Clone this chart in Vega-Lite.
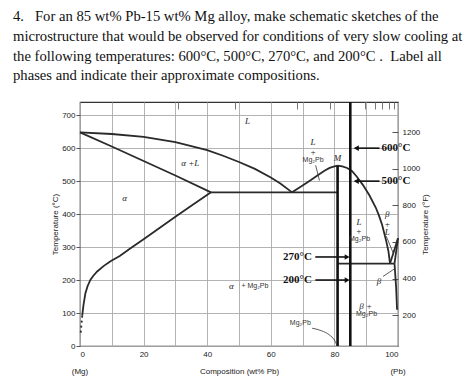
{
  "$schema": "https://vega.github.io/schema/vega-lite/v6.json",
  "width": 318,
  "height": 244,
  "autosize": {"type": "none"},
  "padding": {"left": 80, "top": 102, "right": 76, "bottom": 39},
  "background": "white",
  "title": {
    "text": [
      "4.\u00a0\u00a0 For an 85 wt% Pb-15 wt% Mg alloy, make schematic sketches of the",
      "microstructure that would be observed for conditions of very slow cooling at",
      "the following temperatures: 600°C, 500°C, 270°C, and 200°C .\u00a0 Label all",
      "phases and indicate their approximate compositions."
    ],
    "anchor": "start",
    "frame": "group",
    "dx": -67,
    "dy": 21,
    "offset": 20,
    "baseline": "bottom",
    "font": "Liberation Serif",
    "fontSize": 14.65,
    "fontWeight": "normal",
    "color": "#111",
    "lineHeight": 19.6
  },
  "config": {
    "view": {"stroke": "#333", "strokeWidth": 1.2},
    "axis": {
      "labelFont": "Liberation Sans",
      "labelFontSize": 8,
      "labelColor": "#222",
      "labelOverlap": false,
      "titleFont": "Liberation Sans",
      "titleFontSize": 8,
      "titleFontWeight": "normal",
      "titleColor": "#222",
      "gridColor": "#aaa",
      "gridWidth": 0.9,
      "tickColor": "#555",
      "domain": false
    }
  },
  "datasets": {
    "phase": [
      {"s": "liqL", "i": 0, "x": 0, "y": 648}, {"s": "liqL", "i": 1, "x": 10, "y": 643}, {"s": "liqL", "i": 2, "x": 20, "y": 634}, {"s": "liqL", "i": 3, "x": 30, "y": 618}, {"s": "liqL", "i": 4, "x": 40, "y": 594}, {"s": "liqL", "i": 5, "x": 45, "y": 577}, {"s": "liqL", "i": 6, "x": 50, "y": 558}, {"s": "liqL", "i": 7, "x": 55, "y": 537}, {"s": "liqL", "i": 8, "x": 60, "y": 511}, {"s": "liqL", "i": 9, "x": 63, "y": 493}, {"s": "liqL", "i": 10, "x": 66.7, "y": 466},
      {"s": "solA", "i": 0, "x": 0, "y": 648}, {"s": "solA", "i": 1, "x": 10, "y": 605}, {"s": "solA", "i": 2, "x": 20, "y": 561}, {"s": "solA", "i": 3, "x": 30, "y": 517}, {"s": "solA", "i": 4, "x": 41.2, "y": 466},
      {"s": "solvA", "i": 0, "x": 41.2, "y": 466}, {"s": "solvA", "i": 1, "x": 35, "y": 425}, {"s": "solvA", "i": 2, "x": 30, "y": 392}, {"s": "solvA", "i": 3, "x": 25, "y": 358}, {"s": "solvA", "i": 4, "x": 20, "y": 324}, {"s": "solvA", "i": 5, "x": 16, "y": 297}, {"s": "solvA", "i": 6, "x": 12.5, "y": 273}, {"s": "solvA", "i": 7, "x": 9.6, "y": 257}, {"s": "solvA", "i": 8, "x": 7.5, "y": 243}, {"s": "solvA", "i": 9, "x": 5.4, "y": 226}, {"s": "solvA", "i": 10, "x": 4.2, "y": 213}, {"s": "solvA", "i": 11, "x": 3.3, "y": 201}, {"s": "solvA", "i": 12, "x": 2.4, "y": 182}, {"s": "solvA", "i": 13, "x": 1.7, "y": 160}, {"s": "solvA", "i": 14, "x": 1.1, "y": 125}, {"s": "solvA", "i": 15, "x": 0.7, "y": 92},
      {"s": "eut1", "i": 0, "x": 41.2, "y": 466}, {"s": "eut1", "i": 1, "x": 81, "y": 466},
      {"s": "liqM1", "i": 0, "x": 66.7, "y": 466}, {"s": "liqM1", "i": 1, "x": 70, "y": 487}, {"s": "liqM1", "i": 2, "x": 72.5, "y": 503}, {"s": "liqM1", "i": 3, "x": 75, "y": 519}, {"s": "liqM1", "i": 4, "x": 77, "y": 532}, {"s": "liqM1", "i": 5, "x": 78.5, "y": 540}, {"s": "liqM1", "i": 6, "x": 80, "y": 545}, {"s": "liqM1", "i": 7, "x": 81, "y": 547},
      {"s": "liqM2", "i": 0, "x": 81, "y": 547}, {"s": "liqM2", "i": 1, "x": 82.5, "y": 545}, {"s": "liqM2", "i": 2, "x": 84, "y": 540}, {"s": "liqM2", "i": 3, "x": 85.5, "y": 531}, {"s": "liqM2", "i": 4, "x": 87, "y": 514}, {"s": "liqM2", "i": 5, "x": 89, "y": 488}, {"s": "liqM2", "i": 6, "x": 91, "y": 457}, {"s": "liqM2", "i": 7, "x": 93, "y": 420}, {"s": "liqM2", "i": 8, "x": 94, "y": 396}, {"s": "liqM2", "i": 9, "x": 95, "y": 368}, {"s": "liqM2", "i": 10, "x": 95.6, "y": 345}, {"s": "liqM2", "i": 11, "x": 96.3, "y": 318}, {"s": "liqM2", "i": 12, "x": 97, "y": 287}, {"s": "liqM2", "i": 13, "x": 97.5, "y": 250},
      {"s": "eut2", "i": 0, "x": 81, "y": 250}, {"s": "eut2", "i": 1, "x": 98.9, "y": 250},
      {"s": "liqPb", "i": 0, "x": 97.5, "y": 250}, {"s": "liqPb", "i": 1, "x": 100, "y": 327},
      {"s": "solPb", "i": 0, "x": 98.9, "y": 250}, {"s": "solPb", "i": 1, "x": 100, "y": 327},
      {"s": "solvB", "i": 0, "x": 98.9, "y": 250}, {"s": "solvB", "i": 1, "x": 99.4, "y": 180}, {"s": "solvB", "i": 2, "x": 99.7, "y": 110}
    ],
    "thick": [
      {"s": "mg2pb", "i": 0, "x": 81, "y": 0}, {"s": "mg2pb", "i": 1, "x": 81, "y": 547},
      {"s": "alloy", "i": 0, "x": 85, "y": 0}, {"s": "alloy", "i": 1, "x": 85, "y": 740}
    ],
    "dotted": [
      {"i": 0, "x": 0.7, "y": 92}, {"i": 1, "x": 0.45, "y": 65}, {"i": 2, "x": 0.2, "y": 38}
    ],
    "arrows": [
      {"s": "a600", "i": 0, "x": 86.4, "y": 600}, {"s": "a600", "i": 1, "x": 94.2, "y": 600},
      {"s": "a500", "i": 0, "x": 86.4, "y": 500}, {"s": "a500", "i": 1, "x": 94.2, "y": 500},
      {"s": "a270", "i": 0, "x": 74, "y": 270}, {"s": "a270", "i": 1, "x": 83.8, "y": 270},
      {"s": "a200", "i": 0, "x": 74, "y": 200}, {"s": "a200", "i": 1, "x": 83.8, "y": 200}
    ],
    "heads": [
      {"x": 86.9, "y": 600, "dir": "left"},
      {"x": 86.9, "y": 500, "dir": "left"},
      {"x": 84.0, "y": 270, "dir": "right"},
      {"x": 84.0, "y": 200, "dir": "right"}
    ],
    "pointers": [
      {"s": "p1", "i": 0, "x": 74.1, "y": 548}, {"s": "p1", "i": 1, "x": 75.3, "y": 502},
      {"s": "p2", "i": 0, "x": 95.3, "y": 211}, {"s": "p2", "i": 1, "x": 99.2, "y": 236},
      {"s": "p3", "i": 0, "x": 96.3, "y": 333}, {"s": "p3", "i": 1, "x": 98.5, "y": 282},
      {"s": "p4", "i": 0, "x": 73, "y": 54}, {"s": "p4", "i": 1, "x": 76, "y": 46}, {"s": "p4", "i": 2, "x": 78.5, "y": 33}, {"s": "p4", "i": 3, "x": 80, "y": 18}, {"s": "p4", "i": 4, "x": 80.8, "y": 2}
    ],
    "serif": [
      {"x": 52.7, "y": 682, "t": "L"},
      {"x": 34.7, "y": 554, "t": "α +L"},
      {"x": 14, "y": 450, "t": "α"},
      {"x": 73.3, "y": 619, "t": "L"},
      {"x": 73.3, "y": 589, "t": "+"},
      {"x": 81, "y": 571, "t": "M"},
      {"x": 87.7, "y": 375, "t": "L"},
      {"x": 87.7, "y": 349, "t": "+"},
      {"x": 96.6, "y": 399, "t": "β"},
      {"x": 96.6, "y": 371, "t": "+"},
      {"x": 96.6, "y": 345, "t": "L"},
      {"x": 94, "y": 198, "t": "β"},
      {"x": 89.8, "y": 122, "t": "β +"},
      {"x": 47.6, "y": 183, "t": "α"}
    ],
    "sans": [
      {"x": 73.3, "y": 563, "t": "Mg₂Pb"},
      {"x": 87.9, "y": 325, "t": "Mg₂Pb"},
      {"x": 55, "y": 183, "t": "+ Mg₂Pb"},
      {"x": 90.1, "y": 97, "t": "Mg₂Pb"},
      {"x": 69.3, "y": 70, "t": "Mg₂Pb"}
    ],
    "tempsR": [
      {"x": 94.5, "y": 600, "t": "600°C"},
      {"x": 94.5, "y": 500, "t": "500°C"}
    ],
    "tempsL": [
      {"x": 72.9, "y": 270, "t": "270°C"},
      {"x": 72.9, "y": 200, "t": "200°C"}
    ],
    "ends": [
      {"x": 0, "t": "(Mg)"},
      {"x": 100, "t": "(Pb)"}
    ]
  },
  "layer": [
    {
      "data": {"name": "phase"},
      "mark": {"type": "line", "color": "#2a2a2a", "strokeWidth": 1.8},
      "encoding": {
        "x": {"field": "x", "type": "quantitative", "scale": {"domain": [0, 100], "nice": false},
          "axis": {"values": [0, 10, 20, 30, 40, 50, 60, 70, 80, 90, 100], "labelExpr": "datum.value % 20 === 0 ? datum.label : ''", "ticks": false, "labelPadding": 4, "title": "Composition (wt% Pb)", "titlePadding": 9, "grid": true}},
        "y": {"field": "y", "type": "quantitative", "scale": {"domain": [0, 740], "nice": false},
          "axis": {"values": [0, 100, 200, 300, 400, 500, 600, 700], "tickSize": 4, "labelPadding": 1, "title": "Temperature (°C)", "titlePadding": 2, "grid": true}},
        "detail": {"field": "s"},
        "order": {"field": "i"}
      }
    },
    {
      "data": {"name": "thick"},
      "mark": {"type": "line", "color": "#111", "strokeWidth": 2.6},
      "encoding": {
        "x": {"field": "x", "type": "quantitative", "axis": null},
        "y": {"field": "y", "type": "quantitative", "scale": {"domain": [0, 740], "nice": false}, "axis": null},
        "detail": {"field": "s"},
        "order": {"field": "i"}
      }
    },
    {
      "data": {"name": "dotted"},
      "mark": {"type": "line", "color": "#2a2a2a", "strokeWidth": 1.8, "strokeDash": [2, 3]},
      "encoding": {
        "x": {"field": "x", "type": "quantitative", "axis": null},
        "y": {"field": "y", "type": "quantitative", "scale": {"domain": [0, 740], "nice": false}, "axis": null},
        "order": {"field": "i"}
      }
    },
    {
      "data": {"name": "arrows"},
      "mark": {"type": "line", "color": "#111", "strokeWidth": 1.6},
      "encoding": {
        "x": {"field": "x", "type": "quantitative", "axis": null},
        "y": {"field": "y", "type": "quantitative", "scale": {"domain": [0, 740], "nice": false}, "axis": null},
        "detail": {"field": "s"},
        "order": {"field": "i"}
      }
    },
    {
      "data": {"name": "heads"},
      "mark": {"type": "point", "filled": true, "color": "#111", "size": 32, "opacity": 1},
      "encoding": {
        "x": {"field": "x", "type": "quantitative", "axis": null},
        "y": {"field": "y", "type": "quantitative", "scale": {"domain": [0, 740], "nice": false}, "axis": null},
        "shape": {"field": "dir", "type": "nominal", "scale": {"domain": ["left", "right"], "range": ["triangle-left", "triangle-right"]}, "legend": null}
      }
    },
    {
      "data": {"name": "pointers"},
      "mark": {"type": "line", "color": "#333", "strokeWidth": 0.8, "interpolate": "monotone"},
      "encoding": {
        "x": {"field": "x", "type": "quantitative", "axis": null},
        "y": {"field": "y", "type": "quantitative", "scale": {"domain": [0, 740], "nice": false}, "axis": null},
        "detail": {"field": "s"},
        "order": {"field": "i"}
      }
    },
    {
      "data": {"name": "serif"},
      "mark": {"type": "text", "font": "Liberation Serif", "fontStyle": "italic", "fontSize": 9, "color": "#222", "align": "center", "baseline": "middle"},
      "encoding": {
        "x": {"field": "x", "type": "quantitative", "axis": null},
        "y": {"field": "y", "type": "quantitative", "scale": {"domain": [0, 740], "nice": false}, "axis": null},
        "text": {"field": "t"}
      }
    },
    {
      "data": {"name": "sans"},
      "mark": {"type": "text", "font": "Liberation Sans, DejaVu Sans", "fontSize": 7, "color": "#333", "align": "center", "baseline": "middle"},
      "encoding": {
        "x": {"field": "x", "type": "quantitative", "axis": null},
        "y": {"field": "y", "type": "quantitative", "scale": {"domain": [0, 740], "nice": false}, "axis": null},
        "text": {"field": "t"}
      }
    },
    {
      "data": {"name": "tempsR"},
      "mark": {"type": "text", "font": "Liberation Serif", "fontWeight": "bold", "fontSize": 11, "color": "#111", "align": "left", "baseline": "middle", "dx": 1},
      "encoding": {
        "x": {"field": "x", "type": "quantitative", "axis": null},
        "y": {"field": "y", "type": "quantitative", "scale": {"domain": [0, 740], "nice": false}, "axis": null},
        "text": {"field": "t"}
      }
    },
    {
      "data": {"name": "tempsL"},
      "mark": {"type": "text", "font": "Liberation Serif", "fontWeight": "bold", "fontSize": 11, "color": "#111", "align": "right", "baseline": "middle"},
      "encoding": {
        "x": {"field": "x", "type": "quantitative", "axis": null},
        "y": {"field": "y", "type": "quantitative", "scale": {"domain": [0, 740], "nice": false}, "axis": null},
        "text": {"field": "t"}
      }
    },
    {
      "data": {"name": "ends"},
      "mark": {"type": "text", "font": "Liberation Sans", "fontSize": 8, "color": "#222", "align": "center", "baseline": "middle"},
      "encoding": {
        "x": {"field": "x", "type": "quantitative", "axis": null},
        "y": {"datum": -79, "type": "quantitative", "scale": {"domain": [0, 740], "nice": false}, "axis": null},
        "text": {"field": "t"}
      }
    },
    {
      "data": {"values": [{"wt": 0, "F": 32}, {"wt": 100, "F": 1364}]},
      "mark": {"type": "point", "opacity": 0},
      "encoding": {
        "x": {"field": "wt", "type": "quantitative",
          "axis": {"orient": "top", "values": [30.8, 48.7, 68.1, 78.5, 84.9, 89.5, 92.8, 95.1, 97.1, 98.7], "labels": false, "grid": false, "tickSize": -7, "tickColor": "#777", "title": null}},
        "y": {"field": "F", "type": "quantitative", "scale": {"domain": [32, 1364], "nice": false, "zero": false},
          "axis": {"orient": "right", "values": [200, 400, 600, 800, 1000, 1200], "format": "d", "grid": false, "tickSize": -6, "labelPadding": 10, "title": "Temperature (°F)", "titleAngle": -90, "titleBaseline": "top", "titlePadding": 2}}
      }
    }
  ],
  "resolve": {"scale": {"y": "independent"}, "axis": {"x": "independent", "y": "independent"}}
}
